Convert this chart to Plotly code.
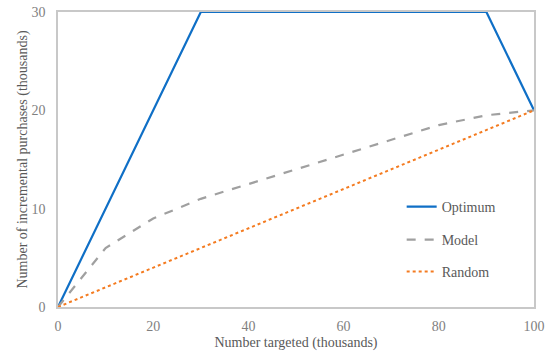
import plotly.graph_objects as go

opt_x = [0, 30, 90, 100]
opt_y = [0, 30, 30, 20]
model_x = [0, 10, 20, 30, 40, 50, 60, 70, 80, 90, 100]
model_y = [0, 6, 9, 11, 12.5, 14, 15.5, 17, 18.5, 19.5, 20]
rand_x = [0, 100]
rand_y = [0, 20]
x_ticks = [0, 20, 40, 60, 80, 100]
y_ticks = [0, 10, 20, 30]

FAM = "'Liberation Serif', 'Times New Roman', Times, serif"
font = dict(family=FAM, size=14, color="#595959")
tfont = dict(family=FAM, size=14, color="#7f7f7f")

fig = go.Figure()
fig.add_trace(go.Scatter(x=opt_x, y=opt_y, mode="lines", name="Optimum", legend="legend",
                         line=dict(color="#0f6fc6", width=2.2)))
fig.add_trace(go.Scatter(x=model_x, y=model_y, mode="lines", name="Model", legend="legend2",
                         line=dict(color="#a0a0a0", width=2.2, dash="dash")))
fig.add_trace(go.Scatter(x=rand_x, y=rand_y, mode="lines", name="Random", legend="legend3",
                         line=dict(color="#f47b20", width=2, dash="dot")))

def leg(yfrac):
    return dict(x=0.722, y=yfrac, xanchor="left", yanchor="middle",
                bgcolor="rgba(0,0,0,0)", font=font, borderwidth=0)

fig.update_layout(
    width=550, height=356,
    margin=dict(l=58, r=16, t=12, b=49),
    paper_bgcolor="white", plot_bgcolor="white",
    font=font,
    showlegend=True,
    legend=leg((307 - 207) / 295),
    legend2=leg((307 - 240) / 295),
    legend3=leg((307 - 272) / 295),
    xaxis=dict(range=[0, 100], tickvals=x_ticks, showgrid=False, zeroline=False,
               showline=True, linecolor="#c8c8c8", linewidth=1.5, mirror=True,
               ticks="", ticklabelstandoff=5, tickfont=tfont, automargin=False,
               title=dict(text="Number targeted (thousands)", font=font, standoff=5)),
    yaxis=dict(range=[0, 30], tickvals=y_ticks, showgrid=False, zeroline=False,
               showline=True, linecolor="#c8c8c8", linewidth=1.5, mirror=True,
               ticks="", ticklabelstandoff=8, tickfont=tfont, automargin=False,
               title=dict(text="Number of incremental purchases (thousands)", font=font, standoff=0)),
)

fig.write_html("out.html", config={"displayModeBar": False},
               post_script="document.body.style.margin='0';document.body.style.padding='0';")
